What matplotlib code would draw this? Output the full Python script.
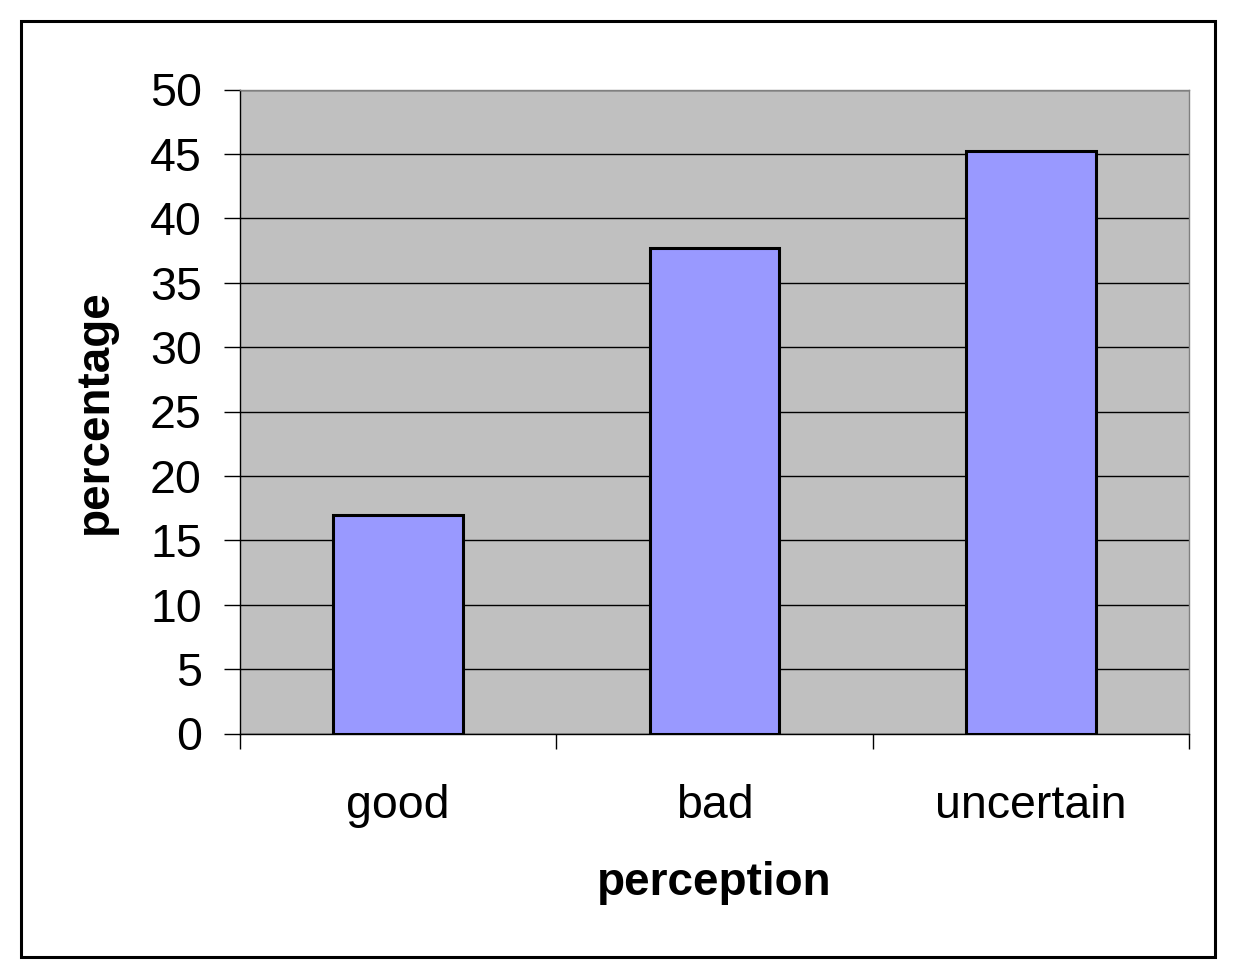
import matplotlib
matplotlib.use("Agg")
import matplotlib.pyplot as plt
from matplotlib.patches import Rectangle
import numpy as np

categories = ["good", "bad", "uncertain"]
percentages = [17.0, 37.7, 45.2]
y_ticks = [0, 5, 10, 15, 20, 25, 30, 35, 40, 45, 50]

plt.rcParams["font.family"] = ["Liberation Sans", "DejaVu Sans"]

fig = plt.figure(figsize=(12.37, 9.64), dpi=100)
ax = fig.add_axes([240 / 1237, 1 - 733.5 / 964, (1189 - 240) / 1237, (733.5 - 89.5) / 964])

ax.set_facecolor("#C0C0C0")
x = np.arange(len(categories))
ax.bar(x, percentages, width=0.41, color="#9999FF", edgecolor="black",
       linewidth=2.2, zorder=3)

ax.set_xlim(-0.5, len(categories) - 0.5)
ax.set_ylim(0, 50)
ax.set_yticks(y_ticks)
ax.set_yticklabels([str(v) for v in y_ticks], fontsize=33.5)
ax.yaxis.grid(True, color="black", linewidth=1.0, zorder=1)
ax.set_axisbelow(True)
ax.tick_params(axis="y", length=11.5, width=1.0, pad=16, color="black")

# category boundaries carry the ticks, labels sit in the middle
ax.set_xticks(np.arange(len(categories) + 1) - 0.5)
ax.set_xticklabels([])
ax.set_xticks(x, minor=True)
ax.set_xticklabels(categories, minor=True, fontsize=33.5)
ax.tick_params(axis="x", which="major", length=11, width=1.0, direction="out")
ax.tick_params(axis="x", which="minor", length=0, pad=36)

for side in ["top", "right"]:
    ax.spines[side].set_color("#808080")
    ax.spines[side].set_linewidth(1.0)
for side in ["left", "bottom"]:
    ax.spines[side].set_color("black")
    ax.spines[side].set_linewidth(1.0)

ax.set_xlabel("perception", fontsize=33, fontweight="bold", labelpad=24)
ax.set_ylabel("percentage", fontsize=33, fontweight="bold", labelpad=24)

fig.patches.append(Rectangle((21 / 1237, 1 - 957 / 964), (1215 - 21) / 1237,
                             (957 - 21) / 964, transform=fig.transFigure,
                             fill=False, edgecolor="black", linewidth=2.2))

fig.savefig("out.png", dpi=100, facecolor="white")
